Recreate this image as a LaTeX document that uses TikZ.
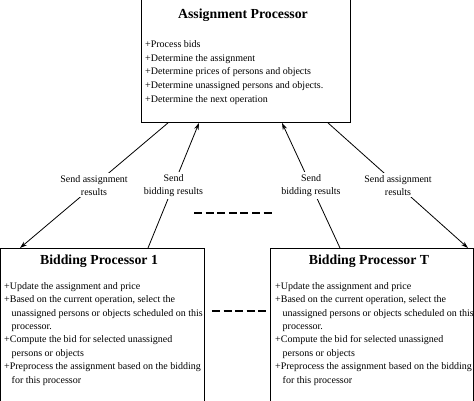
\documentclass[tikz,border=0pt]{standalone}
\usepackage{fontspec}
\setmainfont{Liberation Serif}
\usetikzlibrary{arrows.meta,calc}
\begin{document}
\begin{tikzpicture}[x=1pt,y=-1pt,
  box/.style={draw=black,line width=0.9pt,rectangle,inner sep=0pt,anchor=north west},
  ttl/.style={font=\fontsize{13.8}{16}\selectfont\bfseries,inner sep=0pt,anchor=base},
  body/.style={font=\fontsize{10}{13.9}\selectfont,align=left,inner sep=0pt,anchor=north west},
  bbody/.style={font=\fontsize{10}{13.45}\selectfont,align=left,inner sep=0pt,anchor=north west},
  lbl/.style={font=\fontsize{10}{13}\selectfont,align=center,fill=white,inner sep=2pt},
  conn/.style={line width=0.8pt,-{Stealth[length=7pt,width=4.5pt]}},
  dsh/.style={line width=2pt,dash pattern=on 8pt off 3.6pt}]
\useasboundingbox (0,0) rectangle (474,400);
\clip (0,0) rectangle (474,400);
\fill[white] (0,0) rectangle (474,400);
% boxes
\node[box,minimum width=209pt,minimum height=130pt] (ap) at (141,-8) {};
\node[box,minimum width=204pt,minimum height=170pt] (b1) at (0,248) {};
\node[box,minimum width=203pt,minimum height=170pt] (bt) at (270,248) {};
% titles
\node[ttl] (apt) at (243,18.5) {Assignment Processor};
\node[ttl] (b1t) at (99,264.5) {Bidding Processor 1};
\node[ttl] (btt) at (369,264.5) {Bidding Processor T};
% body texts
\node[body] (apb) at (145,40) {+Process bids\\+Determine the assignment\\+Determine prices of persons and objects\\+Determine unassigned persons and objects.\\+Determine the next operation};
\node[bbody] (b1b) at (4,282) {+Update the assignment and price\\+Based on the current operation, select the\\\hspace*{7.5pt}unassigned persons or objects scheduled on this\\\hspace*{7.5pt}processor.\\+Compute the bid for selected unassigned\\\hspace*{7.5pt}persons or objects\\+Preprocess the assignment based on the bidding\\\hspace*{7.5pt}for this processor};
\node[bbody] (btb) at (275,282) {+Update the assignment and price\\+Based on the current operation, select the\\\hspace*{7.5pt}unassigned persons or objects scheduled on this\\\hspace*{7.5pt}processor.\\+Compute the bid for selected unassigned\\\hspace*{7.5pt}persons or objects\\+Preprocess the assignment based on the bidding\\\hspace*{7.5pt}for this processor};
% connector endpoints
\coordinate (a1) at ($(ap.south west)+(27,0)$);
\coordinate (a2) at ($(ap.south west)+(58,0)$);
\coordinate (a3) at ($(ap.south west)+(141,0)$);
\coordinate (a4) at ($(ap.south west)+(187,0)$);
\coordinate (p1) at ($(b1.north west)+(20,0)$);
\coordinate (p2) at ($(b1.north west)+(148,0)$);
\coordinate (q1) at ($(bt.north west)+(70,0)$);
\coordinate (q2) at ($(bt.north west)+(198,0)$);
\draw[conn] (a1) -- node[lbl] (l1) {Send assignment\\results} (p1);
\draw[conn] (p2) -- node[lbl] (l2) {Send\\bidding results} (a2);
\draw[conn] (q1) -- node[lbl] (l3) {Send\\bidding results} (a3);
\draw[conn] (a4) -- node[lbl] (l4) {Send assignment\\results} (q2);
% dashed lines
\coordinate (d1) at (194,213);
\coordinate (d2) at (273,213);
\draw[dsh] (d1) -- (d2);
\coordinate (e1) at ($(b1.north east)+(7,63)$);
\coordinate (e2) at ($(bt.north west)+(-3,63)$);
\draw[dsh] (e1) -- (e2);
\end{tikzpicture}
\end{document}
